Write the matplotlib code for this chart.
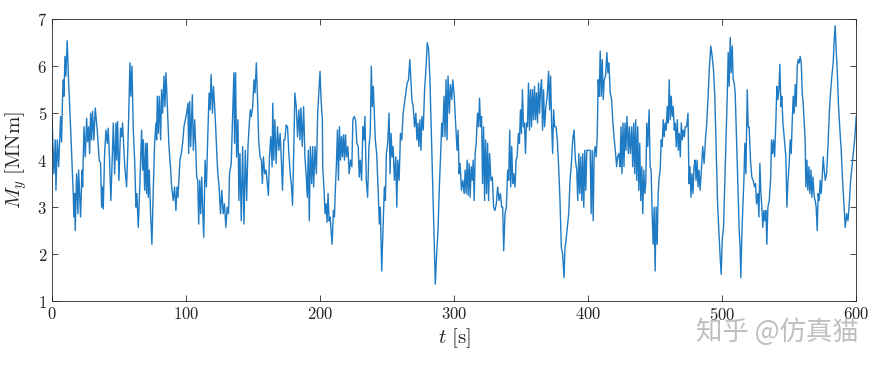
import matplotlib
matplotlib.use('Agg')
import matplotlib.pyplot as plt

# tiempo [s] y momento M_y [MNm] (picos y valles)
t_s = [
    0, 1.5, 2.5, 3.0, 4.0, 5.0, 6.5, 7.2, 8.0, 8.5, 9.0, 9.7, 10.4, 11.4, 12.4, 14.2, 15.9, 16.4, 16.9, 17.4,
    18.4, 19.4, 19.9, 20.9, 21.4, 22.4, 22.9, 23.9, 24.9, 25.9, 26.6, 27.4, 28.1, 28.9, 29.6, 30.3, 31.3, 32.3,
    33.8, 35.3, 36.3, 37.1, 37.6, 38.3, 39.3, 40.3, 41.3, 42.0, 43.0, 44.0, 44.8, 45.8, 46.8, 47.8, 48.3, 49.0,
    50.0, 51.2, 52.0, 52.7, 54.2, 55.7, 56.5, 57.2, 58.2, 58.9, 59.7, 60.2, 60.7, 61.7, 62.7, 63.4, 64.4, 65.7,
    66.9, 67.7, 68.2, 69.2, 69.9, 70.6, 71.1, 71.9, 72.6, 73.6, 74.6, 75.6, 76.6, 77.6, 78.1, 78.6, 79.4, 80.1,
    81.1, 81.8, 82.6, 83.6, 84.3, 85.1, 85.6, 86.3, 87.3, 88.6, 89.3, 90.5, 91.5, 92.5, 93.3, 94.0, 95.5, 96.5,
    97.5, 98.5, 100.5,
    101.5, 102.0, 102.75, 103.5, 104.75, 105.5, 106.5, 107.25, 108.0, 108.75, 109.5, 110.25, 111.0, 111.75,
    112.5, 113.25, 114.25, 115.25, 116.25, 117.25, 118.0, 118.75, 119.75, 120.5, 121.25, 122.25, 123.0, 123.75,
    124.75, 125.75, 126.75, 127.75, 128.75, 129.75, 130.75, 131.75, 132.5, 133.75, 134.75, 135.75, 136.25, 137.0,
    137.75, 138.75, 139.5, 140.25, 141.25, 142.25, 143.25, 144.25, 145.25, 146.25, 147.25, 148.0, 148.75, 149.75,
    150.75, 151.5, 152.5, 153.25, 154.25, 155.25, 156.25, 157.0, 157.75, 158.75, 159.75, 160.5, 161.5, 162.25,
    163.25, 164.25, 164.75, 165.5, 166.25, 167.25, 168.25, 169.25, 170.25, 171.25, 172.0, 173.0, 173.75, 174.75,
    175.75, 176.75, 177.75, 178.75, 179.5, 180.25, 181.25, 182.25, 183.25, 184.25, 185.0, 185.75, 186.75, 187.75,
    188.75, 189.75, 190.5, 191.25, 192.0, 192.75, 193.75, 194.5, 195.25, 196.25, 197.25, 198.25, 199.25, 200.0,
    200.75, 201.75,
    202.0, 203.0, 203.75, 204.5, 205.25, 206.0, 206.75, 207.5, 208.25, 209.0, 210.0, 210.75, 211.5, 212.25,
    213.0, 213.75, 214.5, 215.25, 216.0, 216.75, 217.5, 218.25, 219.0, 219.75, 220.75, 221.75, 222.75, 223.75,
    224.5, 225.5, 226.5, 227.5, 228.5, 229.25, 230.0, 231.0, 232.0, 232.75, 233.5, 234.5, 235.5, 236.5, 237.5,
    238.25, 239.0, 239.75, 240.5, 241.25, 242.25, 243.25, 244.25, 245.0, 246.0, 247.0, 248.0, 248.75, 249.5,
    250.5, 251.5, 252.25, 253.0, 253.75, 254.5, 255.5, 256.5, 257.25, 258.0, 259.0, 260.0, 261.0, 262.0, 263.0,
    264.0, 265.0, 266.0, 267.0, 267.75, 268.5, 269.5, 270.5, 271.5, 272.25, 273.0, 273.75, 274.5, 275.25, 276.0,
    277.0, 278.0, 279.0, 280.0, 281.0, 282.0, 283.0, 284.0, 285.0, 286.0, 287.0, 288.0, 289.0, 290.0, 290.75,
    291.5, 292.5, 293.25, 294.0, 294.75, 295.5, 296.5, 297.25, 298.25, 299.0, 300.0, 301.0,
    302.25, 303.0, 303.75, 304.5, 305.5, 306.5, 307.5, 308.25, 309.0, 309.75, 310.5, 311.25, 312.0, 312.75,
    313.5, 314.25, 315.0, 315.75, 316.5, 317.5, 318.25, 319.0, 319.75, 320.5, 321.25, 322.0, 322.75, 323.5,
    324.25, 325.0, 325.75, 326.5, 327.5, 328.5, 329.5, 330.5, 331.5, 332.5, 333.5, 334.5, 335.5, 336.25, 337.0,
    338.0, 339.0, 340.0, 340.75, 341.5, 342.25, 343.0, 343.75, 344.5, 345.5, 346.25, 347.0, 348.0, 348.75, 349.5,
    350.25, 351.0, 351.75, 352.5, 353.25, 354.0, 354.75, 355.5, 356.25, 357.0, 357.75, 358.5, 359.25, 360.0,
    360.75, 361.5, 362.25, 363.0, 363.75, 364.5, 365.25, 366.0, 366.75, 367.5, 368.5, 369.5, 370.5, 371.25,
    372.0, 372.75, 373.5, 374.25, 375.0, 376.0, 377.0, 378.0, 379.0, 380.0, 381.0, 382.0, 382.75, 383.5, 384.5,
    385.5, 386.5, 387.5, 388.5, 389.5, 390.5, 391.5, 392.25, 393.0, 393.75, 394.5, 395.25, 396.0, 396.75, 397.5,
    398.25, 399.0,
    401.5, 402.25, 403.0, 403.75, 404.5, 405.25, 406.0, 406.75, 407.5, 408.25, 409.0, 409.75, 410.5, 411.25,
    412.0, 413.0, 414.0, 414.75, 415.5, 416.5, 417.5, 418.5, 419.5, 420.5, 421.25, 422.0, 423.0, 423.75, 424.5,
    425.25, 426.0, 426.75, 427.5, 428.25, 429.0, 430.0, 430.75, 431.5, 432.5, 433.25, 434.0, 434.75, 435.5,
    436.25, 437.0, 437.75, 438.5, 439.25, 440.0, 440.75, 441.5, 442.25, 443.0, 443.75, 444.5, 445.5, 446.25,
    447.0, 447.75, 448.5, 449.25, 450.0, 450.75, 451.5, 452.25, 453.0, 453.75, 454.5, 455.25, 456.0, 456.75,
    457.5, 458.25, 459.0, 459.75, 460.5, 461.25, 462.0, 462.75, 463.5, 464.25, 465.0, 465.75, 466.5, 467.25,
    468.0, 468.75, 469.5, 470.25, 471.0, 471.75, 472.5, 473.5, 474.5, 475.25, 476.0, 476.75, 477.5, 478.25,
    479.0, 479.75, 480.5, 481.25, 482.0, 482.75, 483.5, 484.5, 485.5, 486.5, 487.5, 488.5, 489.5, 490.5, 491.5,
    492.5, 493.5, 494.5, 495.5, 496.5, 497.5, 498.5, 499.25, 500.0, 501.0, 502.0,
    503.7, 504.5, 505.2, 506.0, 506.7, 507.5, 508.2, 509.0, 509.7, 510.7, 511.7, 512.7, 513.4, 513.9, 514.7,
    515.4, 516.2, 516.9, 517.7, 518.7, 519.4, 520.1, 521.1, 522.1, 523.1, 524.1, 524.9, 525.6, 526.6, 527.4,
    528.1, 528.9, 529.6, 530.3, 531.1, 531.8, 532.6, 533.3, 534.1, 535.1, 536.1, 536.8, 537.6, 538.3, 539.1,
    540.0, 540.8, 541.5, 542.3, 543.0, 543.8, 544.5, 545.3, 546.0, 546.8, 547.5, 548.3, 549.0, 550.0, 550.7,
    551.5, 552.2, 553.0, 553.7, 554.5, 555.2, 556.0, 556.7, 557.5, 558.2, 559.0, 559.7, 560.4, 561.2, 561.9,
    562.4, 563.2, 563.9, 564.7, 565.4, 566.2, 566.9, 567.7, 568.7, 569.4, 570.1, 570.9, 571.6, 572.4, 573.1,
    573.9, 574.6, 575.4, 576.1, 576.9, 577.9, 578.9, 579.9, 580.8, 581.8, 582.8, 583.6, 584.3, 585.1, 585.8,
    586.8, 587.8, 588.8, 589.8, 590.8, 591.8, 592.8, 593.8, 594.8, 595.8, 596.8, 597.8, 598.8, 600.0,
]

m_y = [
    4.93, 3.71, 4.43, 3.36, 4.43, 3.86, 4.93, 4.39, 5.43, 5.71, 5.36, 6.21, 5.79, 6.54, 5.71, 4.5, 3.29, 2.79, 3.29, 2.5,
    3.71, 2.86, 3.79, 3.14, 2.79, 3.79, 3.43, 4.71, 4.07, 4.89, 4.39, 4.71, 4.14, 5.0, 4.43, 5.04, 4.43, 5.11,
    4.64, 4.0, 3.93, 3.0, 3.43, 2.96, 4.14, 4.64, 4.36, 4.68, 4.0, 3.14, 3.86, 4.79, 3.71, 4.79, 4.0, 4.82,
    3.57, 4.68, 4.5, 4.79, 3.93, 3.43, 4.14, 4.86, 6.07, 5.36, 6.0, 5.36, 4.64, 4.0, 3.0, 3.29, 2.57, 3.57,
    4.64, 3.79, 4.43, 3.36, 4.36, 3.29, 4.36, 3.21, 3.79, 2.86, 2.21, 3.36, 4.36, 4.79, 4.43, 5.36, 4.57, 5.36,
    4.43, 5.5, 5.0, 5.79, 5.14, 5.86, 5.5, 5.0, 4.29, 3.79, 3.43, 3.14, 3.43, 2.93, 3.43, 3.21, 4.0, 4.14,
    4.36, 4.71, 5.0,
    5.21, 4.14, 5.25, 4.29, 5.39, 4.21, 4.86, 4.29, 3.64, 3.57, 2.64, 3.57, 2.86, 3.64,
    2.93, 2.36, 4.0, 3.43, 4.5, 5.43, 5.07, 5.82, 5.0, 5.57, 5.21, 4.64, 4.14, 3.71,
    3.43, 2.86, 3.36, 2.86, 3.07, 2.57, 3.0, 2.86, 3.71, 3.93, 4.86, 5.86, 4.36, 5.86,
    4.07, 4.86, 3.14, 4.14, 2.71, 4.29, 2.64, 4.21, 3.14, 4.29, 4.79, 5.07, 4.93, 5.14,
    5.71, 5.43, 6.07, 5.43, 4.43, 4.07, 4.0, 3.5, 4.07, 3.71, 3.79, 3.57, 3.25, 4.07,
    4.5, 3.86, 5.21, 4.0, 4.86, 3.93, 4.71, 4.21, 4.57, 3.93, 3.36, 4.43, 4.43, 4.75,
    4.71, 4.14, 3.71, 3.43, 3.04, 4.0, 5.43, 5.14, 4.5, 5.07, 4.43, 5.11, 4.29, 5.14,
    4.07, 3.64, 3.21, 4.21, 2.71, 4.29, 3.5, 4.29, 3.43, 4.29, 3.71, 5.0, 5.5, 5.89,
    5.29, 4.86,
    3.86, 3.36, 2.86, 3.07, 2.68, 3.29, 2.71, 2.79, 2.5, 2.21, 2.93, 2.79, 3.43, 3.93,
    4.64, 3.57, 4.71, 4.0, 4.5, 4.07, 4.54, 4.0, 4.54, 4.07, 4.29, 3.71, 4.0, 3.86,
    4.86, 4.93, 4.86, 4.36, 4.29, 3.64, 4.0, 3.57, 4.71, 4.43, 4.93, 3.57, 3.21, 4.29, 4.57,
    6.0, 5.14, 5.57, 5.0, 4.43, 4.14, 3.43, 2.64, 3.0, 1.64, 2.57, 3.43, 3.14, 4.14,
    4.36, 5.0, 3.71, 4.57, 4.07, 4.29, 3.57, 4.07, 3.0, 4.0, 3.57, 4.57, 4.43, 5.0, 5.21,
    5.43, 5.64, 5.71, 6.14, 5.71, 5.29, 5.14, 4.71, 5.0, 4.43, 4.79, 4.29, 4.86, 4.21, 4.93,
    4.64, 5.5, 5.93, 6.5, 6.36, 5.71, 4.64, 3.57, 2.5, 1.36, 2.0, 2.5, 3.43, 4.14, 4.79,
    4.5, 5.36, 4.5, 5.71, 4.43, 5.79, 5.0, 5.61, 5.29, 5.71, 5.43, 4.86,
    4.21, 4.64, 3.71, 3.93, 3.36, 3.57, 3.29, 3.79, 3.29, 4.0, 3.25, 3.93, 3.21, 3.86,
    3.57, 4.0, 3.14, 4.14, 4.36, 5.0, 4.71, 5.32, 4.71, 4.93, 3.5, 4.71, 3.14, 4.43,
    3.29, 4.36, 3.14, 4.14, 3.57, 3.64, 3.0, 2.93, 3.07, 3.43, 3.14, 3.29, 3.0, 3.0, 2.07,
    2.86, 3.0, 3.79, 3.57, 4.64, 3.43, 4.29, 3.5, 3.71, 3.43, 4.0, 4.07, 4.57, 4.36, 5.07,
    4.57, 5.5, 4.71, 4.79, 4.14, 4.79, 4.71, 5.64, 4.64, 5.5, 4.71, 5.5, 4.86, 5.57,
    4.86, 5.43, 4.79, 5.64, 5.0, 5.5, 5.71, 4.64, 5.5, 4.71, 5.14, 5.36, 5.89, 5.07,
    5.79, 4.79, 4.14, 5.07, 4.71, 4.71, 4.43, 3.86, 3.14, 2.14, 2.0, 1.5, 2.14, 2.29, 2.57,
    2.86, 3.57, 3.93, 4.43, 4.64, 4.0, 3.79, 3.14, 4.14, 3.29, 4.07, 3.14, 4.14, 3.0, 4.21,
    3.36, 4.21,
    4.21, 2.86, 4.21, 2.71, 4.14, 4.29, 4.07, 4.5, 5.71, 5.36, 6.32, 5.36, 6.14, 5.29,
    5.71, 5.79, 6.29, 5.86, 6.07, 5.43, 5.29, 4.79, 4.43, 4.14, 3.86, 4.07, 4.14, 3.86, 4.71,
    3.71, 4.79, 3.86, 4.79, 4.21, 4.93, 4.14, 4.71, 4.14, 4.71, 3.86, 4.79, 3.71, 4.86,
    3.57, 4.71, 3.36, 4.36, 3.14, 3.86, 2.86, 3.79, 3.29, 3.5, 4.79, 4.29, 5.07, 3.86,
    3.79, 2.86, 2.21, 3.0, 1.64, 3.0, 2.21, 3.29, 3.64, 3.79, 4.43, 4.29, 4.86, 4.5,
    4.79, 4.64, 5.14, 4.79, 5.71, 4.86, 5.36, 4.93, 5.14, 4.64, 4.79, 4.29, 4.86, 4.21,
    4.57, 4.07, 4.79, 4.43, 4.64, 4.5, 4.71, 4.71, 5.0, 3.5, 3.86, 3.21, 3.71, 3.29,
    3.86, 4.0, 3.57, 4.0, 3.43, 3.79, 3.36, 3.79, 4.29, 3.93, 4.43, 4.79, 5.36, 6.0, 6.43,
    6.21, 5.93, 5.36, 4.29, 3.14, 2.5, 1.93, 1.57, 2.29, 2.57, 3.57,
    5.29, 6.29, 5.57, 6.61, 5.86, 6.43, 5.71, 5.64, 5.43, 4.43, 3.43, 2.5, 2.14, 1.5, 2.43,
    3.0, 3.57, 4.36, 3.71, 5.5, 4.71, 4.71, 4.0, 3.64, 3.57, 3.43, 3.5, 3.07, 3.29, 2.79,
    3.93, 3.29, 3.0, 2.57, 2.93, 2.71, 2.93, 2.21, 3.0, 3.14, 3.57, 4.43, 4.14, 4.43, 4.07,
    4.79, 5.57, 5.29, 5.5, 6.04, 5.14, 5.36, 4.79, 4.57, 4.29, 4.07, 3.0, 3.5, 3.93, 4.43,
    4.14, 4.79, 5.36, 5.0, 5.61, 5.14, 6.0, 6.14, 6.07, 6.21, 6.07, 5.43, 5.21, 4.79, 4.43,
    3.43, 4.0, 3.36, 3.86, 3.29, 3.79, 3.21, 3.64, 3.21, 3.14, 3.0, 2.5, 3.29, 3.14, 3.57,
    3.29, 3.64, 4.07, 3.79, 3.57, 3.71, 4.29, 5.0, 5.43, 5.79, 6.07, 6.57, 6.86, 6.29, 5.93,
    5.14, 4.64, 4.21, 3.57, 3.07, 2.57, 2.86, 2.71, 3.07, 3.57, 3.86, 4.14, 4.43, 4.93,
]

plt.rcParams['font.family'] = 'serif'
plt.rcParams['font.serif'] = ['cmr10', 'DejaVu Serif']
plt.rcParams['mathtext.fontset'] = 'cm'
plt.rcParams['axes.formatter.use_mathtext'] = True

fig = plt.figure(figsize=(8.8, 3.69), dpi=100)
ax = fig.add_axes([0.059, 0.184, 0.914, 0.764])

ax.plot(t_s, m_y, color='#1f7bc4', linewidth=1.0)

ax.set_xlim(0, 600)
ax.set_ylim(1, 7)
ax.set_xticks([0, 100, 200, 300, 400, 500, 600])
ax.set_yticks([1, 2, 3, 4, 5, 6, 7])
ax.tick_params(direction='in', top=True, right=True, length=4, width=0.6,
               labelsize=12, colors='#262626')
for s in ax.spines.values():
    s.set_linewidth(0.6)
    s.set_color('#262626')

ax.set_xlabel(r'$t\ \mathrm{[s]}$', fontsize=15, color='#262626', labelpad=2)
ax.set_ylabel(r'$M_y\ \mathrm{[MNm]}$', fontsize=15, color='#262626', labelpad=6)

# marca de agua
fig.text(0.976, 0.10, '知乎 @仿真猫', ha='right', va='center', fontsize=19,
         color='#b4b4b4', alpha=0.85, family=['Noto Sans CJK SC', 'DejaVu Sans'])

fig.savefig('out.png', dpi=100)
